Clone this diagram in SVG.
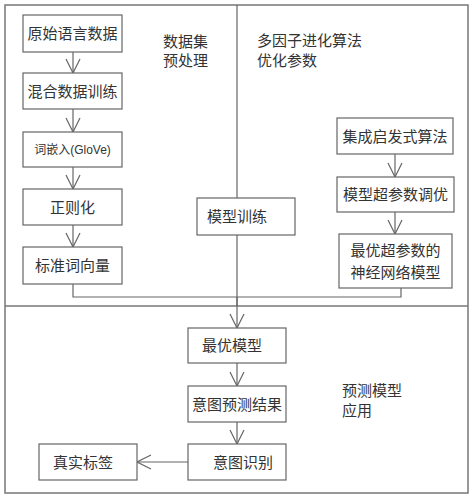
<svg xmlns="http://www.w3.org/2000/svg" width="474" height="499" viewBox="0 0 474 499">
<defs>
<style>
.frame{fill:none;stroke:#777;stroke-width:1.5}
.box{fill:#fff;stroke:#666;stroke-width:1.2}
.ln{fill:none;stroke:#666;stroke-width:1.2}
text{font-family:"Liberation Sans","Noto Sans CJK SC",sans-serif;font-size:15px;fill:#333}
.sm{font-size:12px}
</style>
<marker id="ah" viewBox="0 0 16 16" refX="15" refY="8" markerWidth="16" markerHeight="16" markerUnits="userSpaceOnUse" orient="auto">
<path d="M1,1 L15,8 L1,15" fill="none" stroke="#666" stroke-width="1.2"/>
</marker>
</defs>
<rect width="474" height="499" fill="#fff"/>
<g id="frames">
<rect class="frame" x="5" y="5" width="463" height="488"/>
<line class="frame" x1="5" y1="306" x2="468" y2="306"/>
</g>
<g id="connectors">
<line class="ln" x1="237" y1="5" x2="237" y2="306"/>
<line class="ln" x1="73" y1="52" x2="73" y2="73" marker-end="url(#ah)"/>
<line class="ln" x1="73" y1="109" x2="73" y2="132" marker-end="url(#ah)"/>
<line class="ln" x1="73" y1="167" x2="73" y2="189" marker-end="url(#ah)"/>
<line class="ln" x1="73" y1="225" x2="73" y2="247" marker-end="url(#ah)"/>
<polyline class="ln" points="73,284 73,297 237,297"/>
<line class="ln" x1="395" y1="154" x2="395" y2="177" marker-end="url(#ah)"/>
<line class="ln" x1="395" y1="212" x2="395" y2="234" marker-end="url(#ah)"/>
<polyline class="ln" points="401,288 401,297 237,297"/>
<line class="ln" x1="237" y1="297" x2="237" y2="328" marker-end="url(#ah)"/>
<line class="ln" x1="237" y1="363" x2="237" y2="386" marker-end="url(#ah)"/>
<line class="ln" x1="237" y1="422" x2="237" y2="444" marker-end="url(#ah)"/>
<line class="ln" x1="188" y1="462" x2="137" y2="462" marker-end="url(#ah)"/>
</g>
<g id="label-preprocess">
<text x="163" y="47">数据集</text>
<text x="163" y="66">预处理</text>
</g>
<g id="label-optimize">
<text x="257" y="46">多因子进化算法</text>
<text x="257" y="66">优化参数</text>
</g>
<g id="label-apply">
<text x="342" y="396">预测模型</text>
<text x="342" y="416">应用</text>
</g>
<g id="n-raw"><rect class="box" x="23" y="15" width="99" height="37"/><text x="72.5" y="39" text-anchor="middle">原始语言数据</text></g>
<g id="n-mix"><rect class="box" x="23" y="73" width="99" height="36"/><text x="72.5" y="96.5" text-anchor="middle">混合数据训练</text></g>
<g id="n-embed"><rect class="box" x="23" y="132" width="99" height="35"/><text class="sm" x="72.5" y="153.5" text-anchor="middle">词嵌入(GloVe)</text></g>
<g id="n-norm"><rect class="box" x="23" y="189" width="99" height="36"/><text x="72.5" y="212.5" text-anchor="middle">正则化</text></g>
<g id="n-vec"><rect class="box" x="23" y="247" width="99" height="37"/><text x="72.5" y="271" text-anchor="middle">标准词向量</text></g>
<g id="n-train"><rect class="box" x="197" y="198" width="98" height="37"/><text x="207" y="222">模型训练</text></g>
<g id="n-heur"><rect class="box" x="337" y="118" width="116" height="36"/><text x="395" y="141.5" text-anchor="middle">集成启发式算法</text></g>
<g id="n-tune"><rect class="box" x="337" y="177" width="117" height="35"/><text x="395.5" y="200" text-anchor="middle">模型超参数调优</text></g>
<g id="n-nn"><rect class="box" x="339" y="234" width="113" height="54"/><text x="395.5" y="256" text-anchor="middle">最优超参数的</text><text x="395.5" y="278" text-anchor="middle">神经网络模型</text></g>
<g id="n-best"><rect class="box" x="188" y="328" width="98" height="35"/><text x="202" y="351">最优模型</text></g>
<g id="n-pred"><rect class="box" x="188" y="386" width="98" height="36"/><text x="237" y="409.5" text-anchor="middle">意图预测结果</text></g>
<g id="n-intent"><rect class="box" x="188" y="444" width="98" height="36"/><text x="213" y="467.5">意图识别</text></g>
<g id="n-true"><rect class="box" x="39" y="444" width="98" height="36"/><text x="53" y="467.5">真实标签</text></g>
</svg>
